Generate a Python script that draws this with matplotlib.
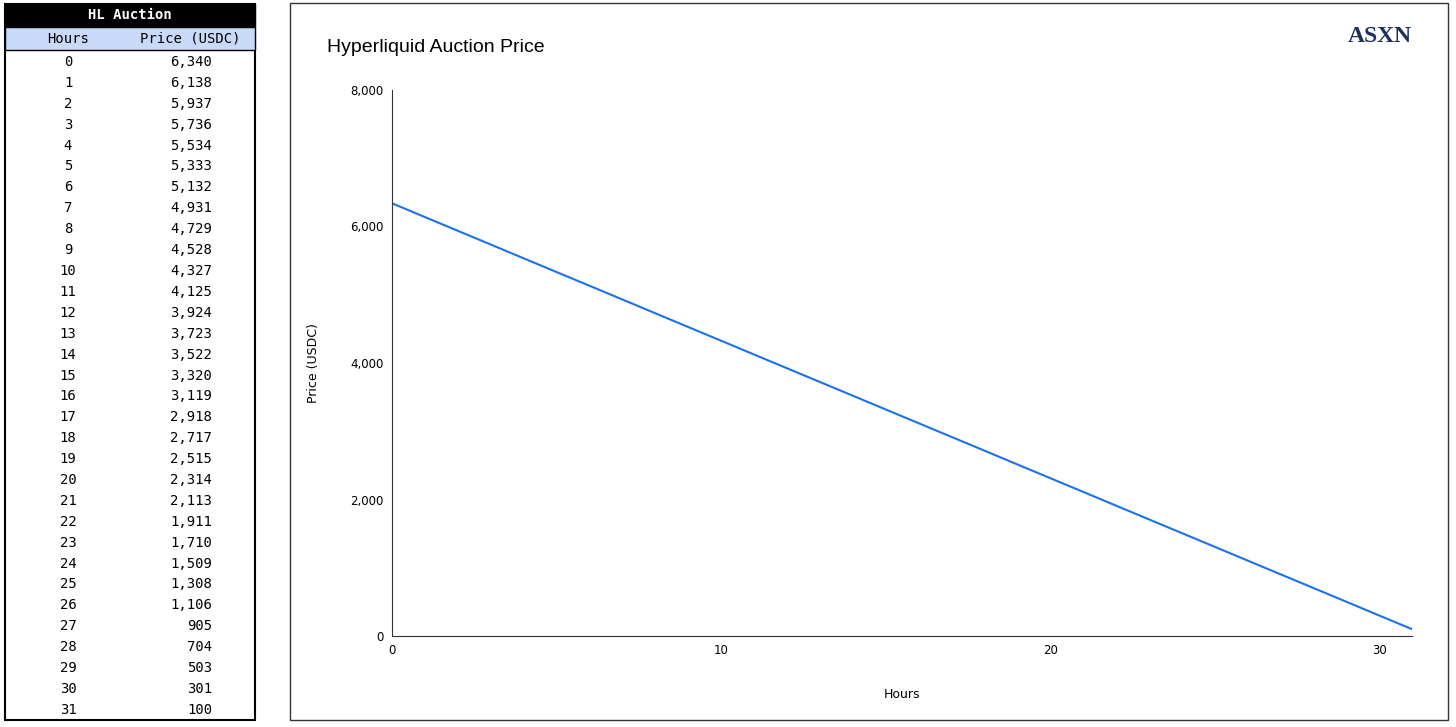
import numpy as np
import matplotlib.pyplot as plt
from matplotlib.patches import Rectangle

hours = list(range(32))
price = [6340, 6138, 5937, 5736, 5534, 5333, 5132, 4931, 4729, 4528, 4327, 4125,
         3924, 3723, 3522, 3320, 3119, 2918, 2717, 2515, 2314, 2113, 1911, 1710,
         1509, 1308, 1106, 905, 704, 503, 301, 100]

W, H = 1456, 727
fig = plt.figure(figsize=(W / 100, H / 100), dpi=100)

# background axes in pixel coordinates for the table and frames
bg = fig.add_axes([0, 0, 1, 1])
bg.set_xlim(0, W)
bg.set_ylim(H, 0)
bg.axis("off")

mono = "DejaVu Sans Mono"
bg.add_patch(Rectangle((5, 4), 250, 716, fill=False, lw=1.5, ec="black"))
bg.add_patch(Rectangle((5, 4), 250, 22, fc="black", ec="black"))
bg.add_patch(Rectangle((5, 27), 250, 23, fc="#c9daf8", ec="black", lw=1))
bg.text(130, 15, "HL Auction", color="white", weight="bold", family=mono,
        fontsize=10, ha="center", va="center")
bg.text(68, 39, "Hours", family=mono, fontsize=10, ha="center", va="center")
bg.text(190, 39, "Price (USDC)", family=mono, fontsize=10, ha="center", va="center")
for i, (h, p) in enumerate(zip(hours, price)):
    y = 62 + i * 20.9
    bg.text(68, y, str(h), family=mono, fontsize=10, ha="center", va="center")
    bg.text(212, y, f"{p:,}", family=mono, fontsize=10, ha="right", va="center")

bg.add_patch(Rectangle((290, 3), 1158, 717, fill=False, lw=1, ec="#333333"))
bg.text(327, 48, "Hyperliquid Auction Price", fontsize=14, va="center",
        family="Liberation Sans")
bg.text(1412, 36, "ASXN", fontsize=17, weight="bold", color="#1f2f5c",
        family="Liberation Serif", ha="right", va="center")

# chart axes
x0, x1, y0, y1 = 392, 1412, 90, 636
ax = fig.add_axes([x0 / W, 1 - y1 / H, (x1 - x0) / W, (y1 - y0) / H])
ax.plot(hours, price, color="#1a73e8", lw=1.5)
ax.set_xlim(0, 31)
ax.set_ylim(0, 8000)
ax.set_xticks([0, 10, 20, 30])
ax.set_yticks([0, 2000, 4000, 6000, 8000])
ax.yaxis.set_major_formatter(plt.FuncFormatter(lambda v, _: f"{int(v):,}"))
for s in ["top", "right"]:
    ax.spines[s].set_visible(False)
ax.spines["left"].set_color("#333333")
ax.spines["bottom"].set_color("#333333")
ax.tick_params(length=0, labelsize=8.5, pad=6)
ax.set_xlabel("Hours", fontsize=9, labelpad=22)
ax.set_ylabel("Price (USDC)", fontsize=9, labelpad=22)

fig.savefig("out.png", dpi=100)
